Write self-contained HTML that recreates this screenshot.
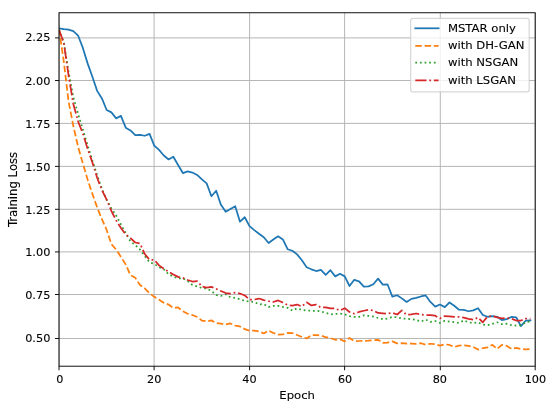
<!DOCTYPE html><html><head><meta charset="utf-8"><style>html,body{margin:0;padding:0;background:#fff;}svg{display:block;}text{font-family:"DejaVu Sans","Liberation Sans",sans-serif;fill:#000;stroke:#000;stroke-width:0.10px;}</style></head><body>
<svg width="550" height="409" viewBox="0 0 550 409">
<rect x="0" y="0" width="550" height="409" fill="#fff"/>
<g>
<path d="M59.00 12.75V366.20M154.10 12.75V366.20M249.60 12.75V366.20M344.60 12.75V366.20M440.30 12.75V366.20M535.20 12.75V366.20M59.05 338.50H535.20M59.05 294.50H535.20M59.05 251.90H535.20M59.05 209.30H535.20M59.05 166.40H535.20M59.05 123.40H535.20M59.05 80.50H535.20M59.05 37.90H535.20" stroke="#b0b0b0" stroke-width="0.93" fill="none"/>
<defs><clipPath id="ax"><rect x="59.05" y="12.75" width="476.15" height="353.45"/></clipPath></defs>
<g clip-path="url(#ax)" fill="none" stroke-width="1.75">
<polyline points="59.05,28.49 63.81,29.18 68.57,29.69 73.33,31.07 78.10,35.54 82.86,47.91 87.62,63.38 92.38,76.79 97.14,90.89 101.90,98.45 106.66,109.97 111.43,112.38 116.19,118.39 120.95,115.81 125.71,127.68 130.47,130.43 135.23,135.24 140.00,134.90 144.76,135.75 149.52,133.86 154.28,145.55 159.04,149.85 163.80,155.52 168.56,159.48 173.33,156.73 178.09,164.98 182.85,173.06 187.61,171.34 192.37,172.54 197.13,174.95 201.90,179.42 206.66,183.37 211.42,196.26 216.18,190.76 220.94,204.86 225.70,211.73 230.46,208.98 235.23,206.23 239.99,221.70 244.75,217.24 249.51,226.17 254.27,230.13 259.03,233.74 263.79,237.18 268.56,243.02 273.32,239.58 278.08,236.32 282.84,239.41 287.60,249.21 292.36,250.76 297.12,254.37 301.89,260.21 306.65,267.26 311.41,269.32 316.17,271.04 320.93,269.84 325.69,274.82 330.46,270.18 335.22,276.37 339.98,273.79 344.74,276.37 349.50,286.00 354.26,279.81 359.02,281.35 363.79,286.68 368.55,286.34 373.31,284.28 378.07,278.60 382.83,284.62 387.59,284.45 392.36,296.65 397.12,295.28 401.88,298.37 406.64,301.98 411.40,298.89 416.16,297.86 420.92,296.48 425.69,295.45 430.45,301.98 435.21,306.62 439.97,304.56 444.73,307.14 449.49,302.50 454.25,305.76 459.02,309.72 463.78,309.89 468.54,311.26 473.30,310.41 478.06,308.17 482.82,315.05 487.59,316.77 492.35,316.08 497.11,316.77 501.87,320.03 506.63,319.17 511.39,316.94 516.15,317.28 520.92,326.05 525.68,320.72 530.44,320.38" stroke="#1f77b4" stroke-linecap="square" stroke-linejoin="round"/>
<polyline points="59.05,29.00 63.81,61.67 68.57,101.37 73.33,125.96 78.10,146.76 82.86,163.43 87.62,179.59 92.38,193.86 97.14,207.44 101.90,219.13 106.66,229.96 111.43,244.22 116.19,249.55 120.95,256.94 125.71,264.51 130.47,275.17 135.23,277.74 140.00,284.96 144.76,288.40 149.52,293.22 154.28,296.83 159.04,299.75 163.80,302.84 168.56,304.56 173.33,308.00 178.09,307.48 182.85,311.26 187.61,313.67 192.37,315.05 197.13,316.94 201.90,320.55 206.66,321.41 211.42,320.38 216.18,322.95 220.94,323.64 225.70,324.50 230.46,323.47 235.23,325.53 239.99,326.39 244.75,329.14 249.51,330.69 254.27,330.69 259.03,331.55 263.79,333.44 268.56,330.52 273.32,332.92 278.08,334.64 282.84,334.47 287.60,332.92 292.36,333.10 297.12,334.99 301.89,337.05 306.65,338.43 311.41,335.16 316.17,335.16 320.93,335.50 325.69,337.22 330.46,338.08 335.22,339.80 339.98,339.28 344.74,341.35 349.50,337.91 354.26,341.18 359.02,341.00 363.79,340.83 368.55,340.66 373.31,340.14 378.07,339.80 382.83,342.89 387.59,342.55 392.36,341.35 397.12,343.41 401.88,343.24 406.64,343.58 411.40,343.58 416.16,343.93 420.92,343.24 425.69,344.61 430.45,343.75 435.21,344.27 439.97,345.64 444.73,344.27 449.49,344.96 454.25,347.02 459.02,345.64 463.78,345.30 468.54,345.82 473.30,346.85 478.06,349.60 482.82,348.22 487.59,347.36 492.35,344.79 497.11,348.91 501.87,344.79 506.63,345.82 511.39,348.91 516.15,347.88 520.92,348.91 525.68,349.43 530.44,349.08" stroke="#ff7f0e" stroke-dasharray="6.48 2.80" stroke-linejoin="round"/>
<polyline points="59.05,29.86 63.81,42.07 68.57,71.98 73.33,97.08 78.10,113.92 82.86,129.57 87.62,145.38 92.38,160.51 97.14,175.12 101.90,188.87 106.66,200.05 111.43,208.47 116.19,215.52 120.95,224.46 125.71,233.05 130.47,241.47 135.23,245.08 140.00,249.55 144.76,256.08 149.52,262.27 154.28,263.82 159.04,267.09 163.80,269.32 168.56,274.31 173.33,276.54 178.09,278.43 182.85,278.26 187.61,281.01 192.37,284.96 197.13,286.34 201.90,288.06 206.66,288.57 211.42,290.98 216.18,294.93 220.94,295.97 225.70,294.25 230.46,297.34 235.23,297.86 239.99,299.23 244.75,300.95 249.51,301.47 254.27,301.98 259.03,304.39 263.79,304.05 268.56,306.97 273.32,305.76 278.08,305.94 282.84,306.97 287.60,307.83 292.36,310.58 297.12,308.34 301.89,309.89 306.65,310.41 311.41,310.75 316.17,310.75 320.93,311.44 325.69,312.81 330.46,314.36 335.22,314.02 339.98,313.67 344.74,314.36 349.50,316.25 354.26,316.94 359.02,316.94 363.79,315.39 368.55,315.91 373.31,316.59 378.07,317.97 382.83,319.17 387.59,318.48 392.36,316.94 397.12,317.28 401.88,318.48 406.64,318.83 411.40,319.17 416.16,319.86 420.92,321.58 425.69,319.52 430.45,321.92 435.21,321.06 439.97,322.95 444.73,320.89 449.49,321.58 454.25,322.09 459.02,322.95 463.78,320.38 468.54,322.27 473.30,323.13 478.06,322.44 482.82,324.50 487.59,325.19 492.35,323.81 497.11,322.27 501.87,324.16 506.63,323.64 511.39,325.19 516.15,325.53 520.92,325.19 525.68,322.27 530.44,321.58" stroke="#2ca02c" stroke-dasharray="1.75 2.89" stroke-linejoin="round"/>
<polyline points="59.05,30.04 63.81,42.93 68.57,75.42 73.33,103.95 78.10,121.49 82.86,133.52 87.62,148.82 92.38,162.57 97.14,177.70 101.90,190.08 106.66,199.53 111.43,211.05 116.19,220.50 120.95,228.07 125.71,234.43 130.47,238.21 135.23,242.50 140.00,243.54 144.76,254.02 149.52,259.69 154.28,259.87 159.04,265.37 163.80,268.81 168.56,271.56 173.33,274.48 178.09,276.88 182.85,277.92 187.61,279.98 192.37,281.53 197.13,281.01 201.90,286.51 206.66,287.71 211.42,286.86 216.18,288.92 220.94,290.98 225.70,293.04 230.46,293.73 235.23,292.53 239.99,293.56 244.75,295.45 249.51,299.58 254.27,299.58 259.03,298.54 263.79,300.09 268.56,301.12 273.32,301.98 278.08,300.44 282.84,302.50 287.60,305.08 292.36,305.59 297.12,304.56 301.89,306.45 306.65,302.33 311.41,305.42 316.17,304.56 320.93,307.48 325.69,307.48 330.46,308.34 335.22,308.51 339.98,310.58 344.74,308.17 349.50,311.95 354.26,313.67 359.02,311.95 363.79,310.75 368.55,309.72 373.31,310.41 378.07,312.98 382.83,313.33 387.59,313.67 392.36,312.81 397.12,314.53 401.88,310.41 406.64,314.87 411.40,314.36 416.16,313.50 420.92,314.53 425.69,315.22 430.45,315.05 435.21,315.73 439.97,318.48 444.73,316.08 449.49,316.42 454.25,316.77 459.02,316.94 463.78,317.63 468.54,318.83 473.30,319.69 478.06,317.45 482.82,322.27 487.59,316.42 492.35,316.08 497.11,317.45 501.87,318.31 506.63,317.97 511.39,318.66 516.15,320.55 520.92,320.55 525.68,318.66 530.44,318.66" stroke="#d62728" stroke-dasharray="11.20 2.80 1.75 2.80" stroke-linejoin="round"/>
</g>
<rect x="59.05" y="12.75" width="476.15" height="353.45" fill="none" stroke="#000" stroke-width="0.93" stroke-linejoin="miter"/>
<path d="M59.00 366.20v4.08M154.10 366.20v4.08M249.60 366.20v4.08M344.60 366.20v4.08M440.30 366.20v4.08M535.20 366.20v4.08M59.05 338.50h-4.08M59.05 294.50h-4.08M59.05 251.90h-4.08M59.05 209.30h-4.08M59.05 166.40h-4.08M59.05 123.40h-4.08M59.05 80.50h-4.08M59.05 37.90h-4.08" stroke="#000" stroke-width="0.93" fill="none"/>
<text transform="translate(59.90 383.20) scale(1.050 1)" font-size="10.70" text-anchor="middle">0</text>
<text transform="translate(154.25 383.20) scale(1.050 1)" font-size="10.70" text-anchor="middle">20</text>
<text transform="translate(249.50 383.20) scale(1.050 1)" font-size="10.70" text-anchor="middle">40</text>
<text transform="translate(345.05 383.20) scale(1.050 1)" font-size="10.70" text-anchor="middle">60</text>
<text transform="translate(439.80 383.20) scale(1.050 1)" font-size="10.70" text-anchor="middle">80</text>
<text transform="translate(535.35 383.20) scale(1.050 1)" font-size="10.70" text-anchor="middle">100</text>
<text x="50.35" y="342.00" font-size="11.30" text-anchor="end">0.50</text>
<text x="50.35" y="299.00" font-size="11.30" text-anchor="end">0.75</text>
<text x="50.35" y="256.00" font-size="11.30" text-anchor="end">1.00</text>
<text x="50.35" y="214.00" font-size="11.30" text-anchor="end">1.25</text>
<text x="50.35" y="171.00" font-size="11.30" text-anchor="end">1.50</text>
<text x="50.35" y="128.00" font-size="11.30" text-anchor="end">1.75</text>
<text x="50.35" y="85.00" font-size="11.30" text-anchor="end">2.00</text>
<text x="50.35" y="41.00" font-size="11.30" text-anchor="end">2.25</text>
<text transform="translate(297.12 399.00) scale(1 0.920)" font-size="11.66" text-anchor="middle">Epoch</text>
<text transform="translate(17.30 189.47) rotate(-90)" font-size="11.66" text-anchor="middle">Training Loss</text>
<rect x="410.64" y="18.45" width="118.56" height="73.35" rx="2.33" ry="2.33" fill="#fff" fill-opacity="0.8" stroke="#cccccc" stroke-opacity="0.8" stroke-width="1.17"/>
<path d="M415.30 28.30H438.60" stroke="#1f77b4" stroke-width="1.75" fill="none" stroke-linecap="square"/>
<text transform="translate(447.90 32.00) scale(1 0.920)" font-size="11.66">MSTAR only</text>
<path d="M415.30 45.90H438.60" stroke="#ff7f0e" stroke-width="1.75" fill="none" stroke-dasharray="6.48 2.80"/>
<text transform="translate(447.90 49.00) scale(1 0.920)" font-size="11.66">with DH-GAN</text>
<path d="M415.30 62.70H438.60" stroke="#2ca02c" stroke-width="1.75" fill="none" stroke-dasharray="1.75 2.89"/>
<text transform="translate(447.90 66.00) scale(1 0.920)" font-size="11.66">with NSGAN</text>
<path d="M415.30 80.40H438.60" stroke="#d62728" stroke-width="1.75" fill="none" stroke-dasharray="11.20 2.80 1.75 2.80"/>
<text transform="translate(447.90 84.00) scale(1 0.920)" font-size="11.66">with LSGAN</text>
</g></svg></body></html>
